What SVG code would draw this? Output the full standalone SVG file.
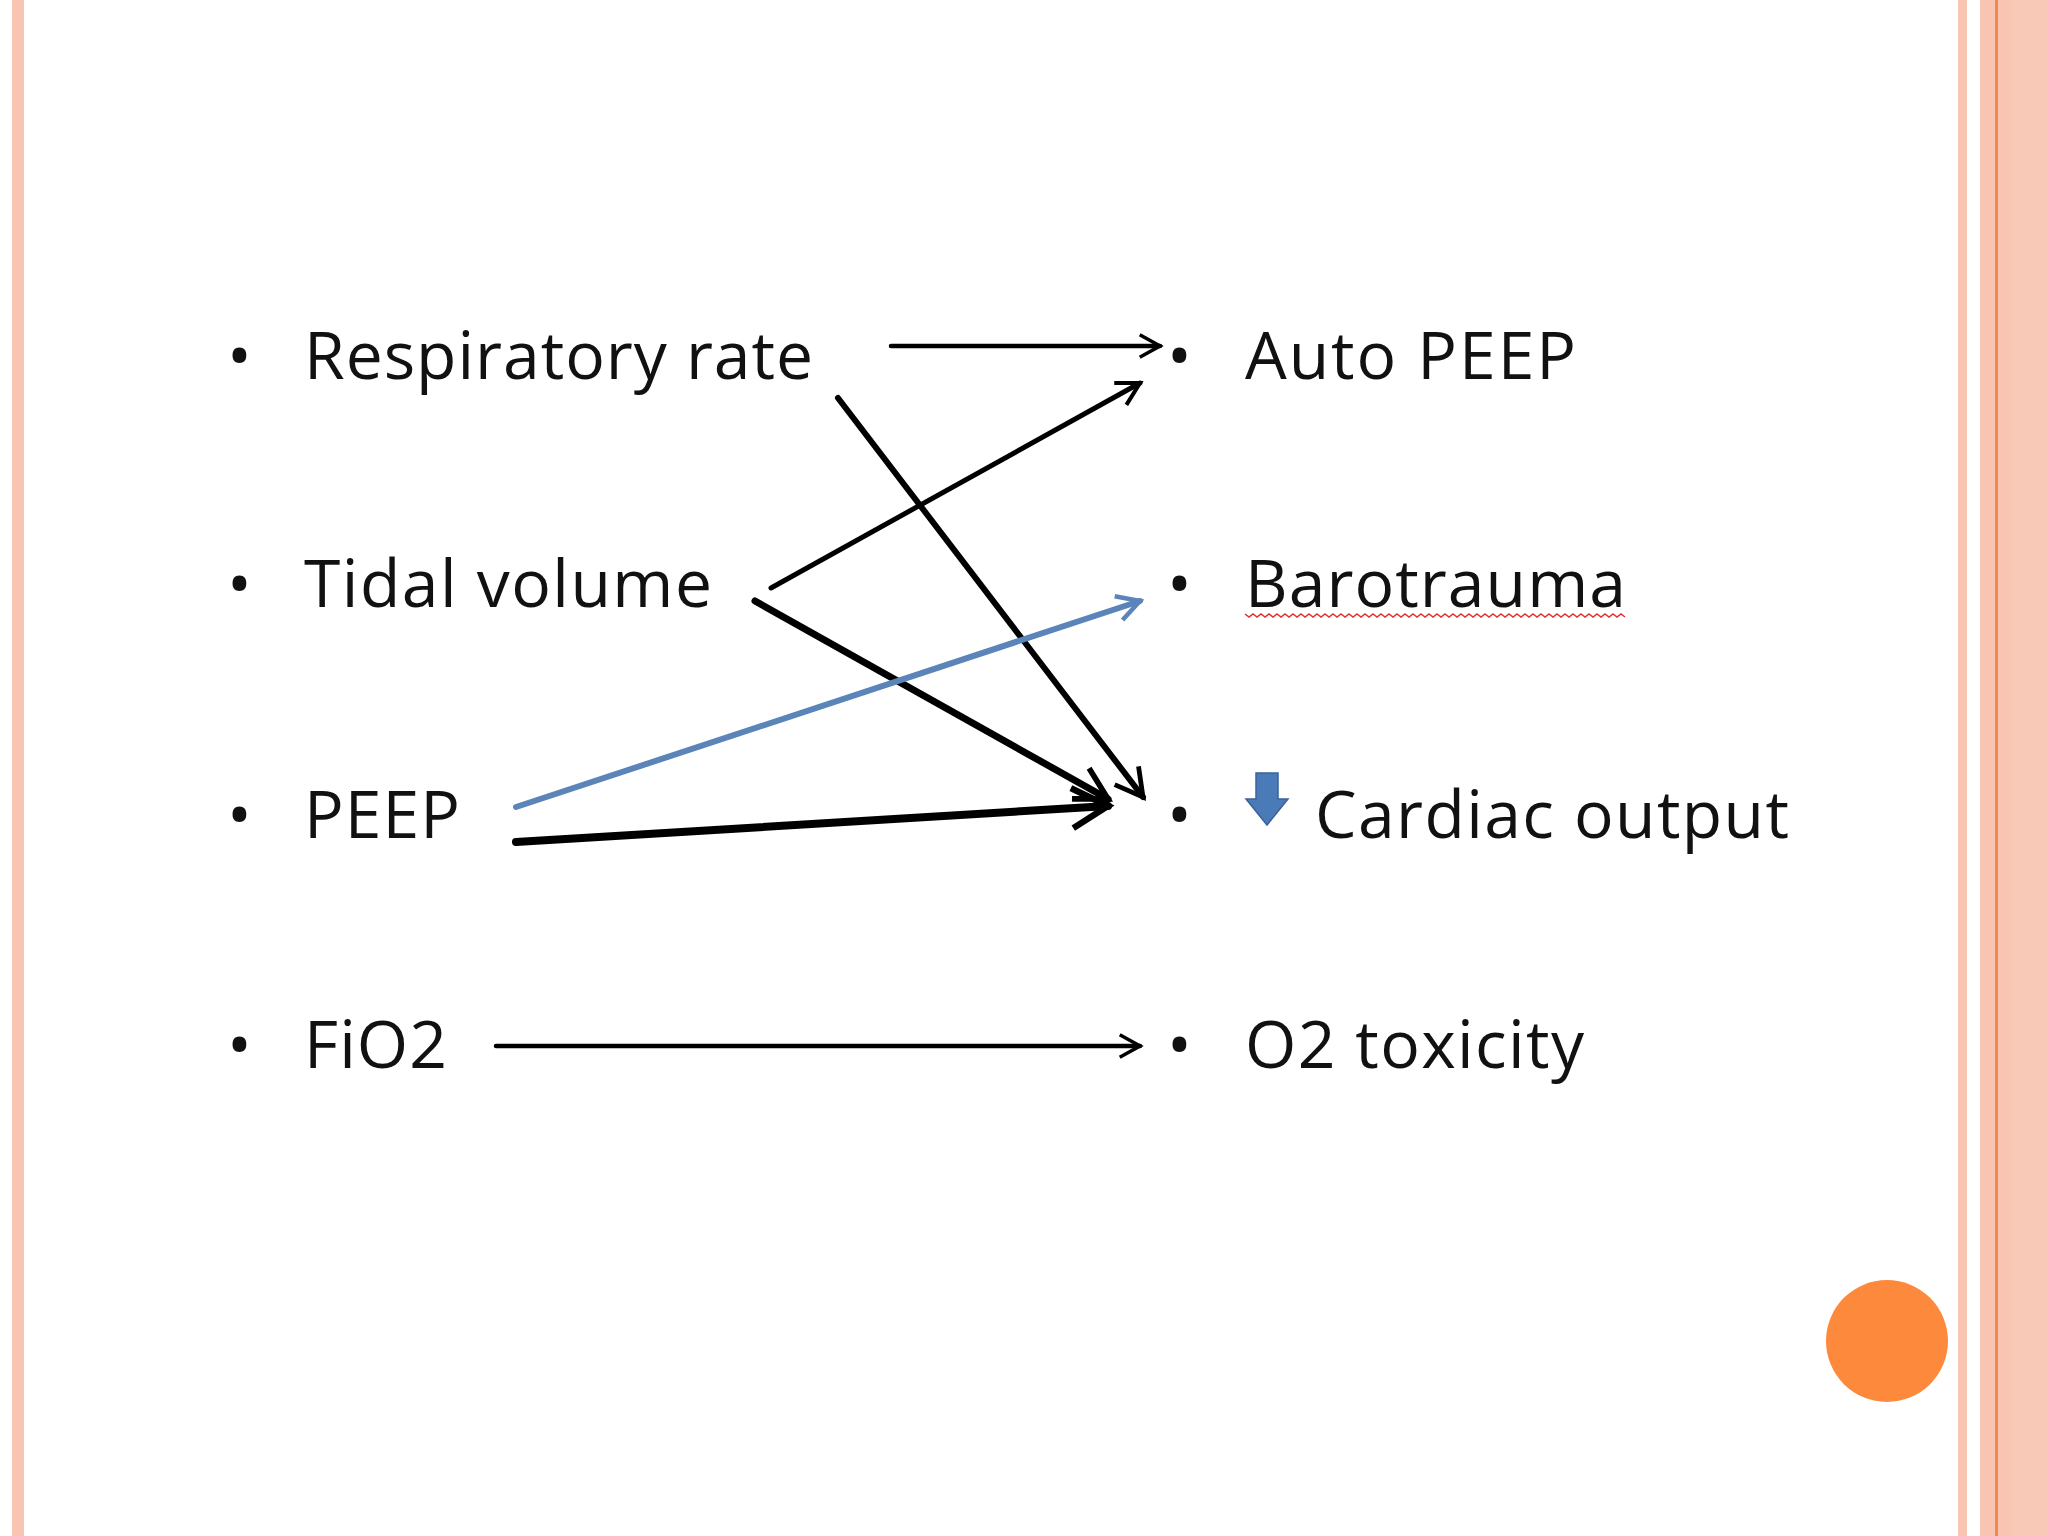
<svg xmlns="http://www.w3.org/2000/svg" width="2048" height="1536" viewBox="0 0 2048 1536">
<style>
text{font-family:"Open Sans","Liberation Sans",sans-serif;font-size:66px;fill:#111}
.c{fill:none;stroke:#000;stroke-linecap:round}
</style>
<defs>
<marker id="ah2" viewBox="0 0 12 12" refX="10" refY="6" markerWidth="6" markerHeight="6" orient="auto" markerUnits="strokeWidth">
<path d="M1,1 L10,6 L1,11" fill="none" stroke="#000" stroke-width="1.6"/>
</marker>
<marker id="ahb" viewBox="0 0 12 12" refX="10" refY="6" markerWidth="5" markerHeight="5" orient="auto" markerUnits="strokeWidth">
<path d="M1,1 L10,6 L1,11" fill="none" stroke="#5b84b8" stroke-width="1.8"/>
</marker>
</defs>
<rect width="2048" height="1536" fill="#fff"/>
<g id="borders">
<rect x="12" y="0" width="12" height="1536" fill="#f9c5b3"/>
<rect x="1958" y="0" width="9" height="1536" fill="#f9c5b3"/>
<rect x="1980" y="0" width="68" height="1536" fill="#f9c5b3"/>
<rect x="1995" y="0" width="3" height="1536" fill="#f08a4c"/>
<rect x="2012" y="0" width="36" height="1536" fill="#f8c9b6"/>
</g>
<g id="n-rr"><text x="227" y="379">•</text><text x="304" y="379" textLength="509">Respiratory rate</text></g>
<g id="n-tv"><text x="227" y="607">•</text><text x="304" y="607" textLength="408">Tidal volume</text></g>
<g id="n-peep"><text x="227" y="838">•</text><text x="304" y="838" textLength="156">PEEP</text></g>
<g id="n-fio2"><text x="227" y="1068">•</text><text x="304" y="1068" textLength="143">FiO2</text></g>
<g id="n-auto"><text x="1167" y="379">•</text><text x="1245" y="379" textLength="331">Auto PEEP</text></g>
<g id="n-baro"><text x="1167" y="607">•</text><text x="1245" y="607" textLength="381">Barotrauma</text>
<path d="M1245,614 l4,3 l4,-3 l4,3 l4,-3 l4,3 l4,-3 l4,3 l4,-3 l4,3 l4,-3 l4,3 l4,-3 l4,3 l4,-3 l4,3 l4,-3 l4,3 l4,-3 l4,3 l4,-3 l4,3 l4,-3 l4,3 l4,-3 l4,3 l4,-3 l4,3 l4,-3 l4,3 l4,-3 l4,3 l4,-3 l4,3 l4,-3 l4,3 l4,-3 l4,3 l4,-3 l4,3 l4,-3 l4,3 l4,-3 l4,3 l4,-3 l4,3 l4,-3 l4,3 l4,-3 l4,3 l4,-3 l4,3 l4,-3 l4,3 l4,-3 l4,3 l4,-3 l4,3 l4,-3 l4,3 l4,-3 l4,3 l4,-3 l4,3 l4,-3 l4,3 l4,-3 l4,3 l4,-3 l4,3 l4,-3 l4,3 l4,-3 l4,3 l4,-3 l4,3 l4,-3 l4,3 l4,-3 l4,3 l4,-3 l4,3 l4,-3 l4,3 l4,-3 l4,3 l4,-3 l4,3 l4,-3 l4,3 l4,-3 l4,3 l4,-3 l4,3 l4,-3 l4,3" fill="none" stroke="#e03030" stroke-width="1.5"/></g>
<g id="n-co"><text x="1167" y="838">•</text>
<path d="M1256,773 h22 v26 h10 l-21,26 l-21,-26 h10 z" fill="#4a7ab8" stroke="#3a6399" stroke-width="1.5"/>
<text x="1315" y="838" textLength="474">Cardiac output</text></g>
<g id="n-o2"><text x="1167" y="1068">•</text><text x="1245" y="1068" textLength="339">O2 toxicity</text></g>
<g id="connectors">
<line class="c" x1="891" y1="346" x2="1160" y2="346" stroke-width="4.5" marker-end="url(#ah2)"/>
<line class="c" x1="838" y1="398" x2="1143" y2="797" stroke-width="6" marker-end="url(#ah2)"/>
<line class="c" x1="771" y1="588" x2="1140" y2="383" stroke-width="5" marker-end="url(#ah2)"/>
<line class="c" x1="755" y1="601" x2="1108" y2="799" stroke-width="7" marker-end="url(#ah2)"/>
<line x1="516" y1="807" x2="1140" y2="601" stroke="#5b84b8" stroke-width="6" stroke-linecap="round" marker-end="url(#ahb)"/>
<line class="c" x1="516" y1="842" x2="1108" y2="806" stroke-width="8" marker-end="url(#ah2)"/>
<line class="c" x1="496" y1="1046" x2="1140" y2="1046" stroke-width="4.5" marker-end="url(#ah2)"/>
</g>
<circle id="dot" cx="1887" cy="1341" r="61" fill="#fd8a3c"/>
</svg>
